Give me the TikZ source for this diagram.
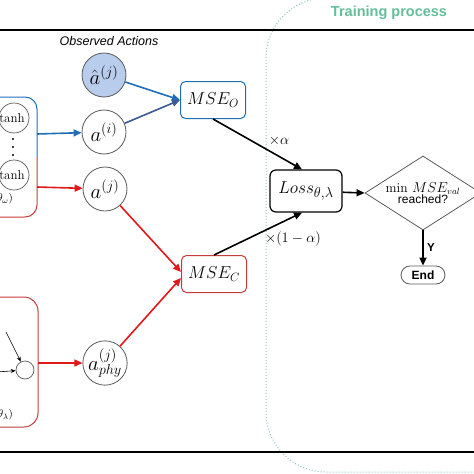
\documentclass[tikz,border=0pt]{standalone}
\usepackage{fontspec}
\setsansfont{Liberation Sans}
\usetikzlibrary{shapes.geometric,arrows.meta}
\definecolor{myblue}{RGB}{31,111,184}
\definecolor{slateblue}{RGB}{60,90,150}
\definecolor{myred}{RGB}{226,24,27}
\definecolor{boxred}{RGB}{196,60,60}
\definecolor{circfill}{RGB}{184,204,236}
\definecolor{trainc}{RGB}{100,190,155}
\definecolor{dotc}{RGB}{140,195,190}
\definecolor{grayb}{RGB}{90,90,90}
\tikzset{
  tipA/.style={-{Triangle[length=8pt,width=7pt]}},
  tipS/.style={-{Stealth[length=5pt,width=4pt]}},
  varc/.style={circle,draw=grayb,line width=0.8pt,minimum size=44pt,inner sep=0pt,font=\fontsize{21}{23}\selectfont},
  msebox/.style={draw,rounded corners=5pt,line width=1pt,minimum width=65pt,minimum height=37pt,font=\fontsize{16.5}{18}\selectfont},
  bluearr/.style={tipA,draw=myblue,fill=myblue,line width=1.6pt},
  slatearr/.style={tipA,draw=slateblue,fill=slateblue,line width=1.6pt},
  redarr/.style={tipA,draw=myred,fill=myred,line width=1.6pt},
  blackarr/.style={tipA,draw=black,line width=1.6pt},
  tanhc/.style={circle,draw=grayb,line width=0.7pt,minimum size=30pt,inner sep=0pt},
}
\begin{document}
\begin{tikzpicture}[x=1pt,y=-1pt]
\useasboundingbox (0,0) rectangle (474,474);
\clip (0,0) rectangle (474,474);
% training region
\draw[dotc,dotted,line width=1pt,rounded corners=60pt] (560,-2) -- (266,-2) -- (266,472) -- (560,472);
\node[font=\sffamily\bfseries\fontsize{14.5}{16}\selectfont,text=trainc] (train) at (389,13) {Training process};
% frame lines
\draw[line width=1.3pt] (0,30) -- (474,30);
\draw[line width=1.3pt] (0,452) -- (474,452);
\node[font=\sffamily\itshape\fontsize{12.5}{14}\selectfont] (obs) at (109,41) {Observed Actions};
% left network box (blue/red)
\draw[myblue,line width=1pt,rounded corners=12pt] (-20,97) -- (37,97) -- (37,157);
\draw[boxred,line width=1pt,rounded corners=12pt] (37,157) -- (37,217) -- (-20,217);
\node[tanhc] (t1) at (14,118) {};
\node[tanhc] (t2) at (14,175) {};
\node[font=\fontsize{13}{15}\selectfont,inner sep=0pt] (t1l) at (12,118) {tanh};
\node[font=\fontsize{13}{15}\selectfont,inner sep=0pt] (t2l) at (12,175) {tanh};
\foreach \yy in {139,147,155} \fill (13,\yy) circle (1.2pt);
\node[anchor=east,font=\fontsize{11}{13}\selectfont,inner sep=0pt] (f1) at (13,199) {$\theta_\omega)$};
% lower physics box
\draw[boxred,line width=1pt,rounded corners=14pt] (-20,297) -- (38,297) -- (38,427) -- (-20,427);
\node[circle,draw=grayb,line width=0.7pt,minimum size=18pt,inner sep=0pt] (sumc) at (25,370) {};
\coordinate (in1) at (-4,372);
\coordinate (in2) at (6,332);
\draw[tipS,line width=0.6pt] (in1) -- (sumc);
\draw[tipS,line width=0.6pt] (in2) -- (sumc);
\node[anchor=east,font=\fontsize{11}{13}\selectfont,inner sep=0pt] (f2) at (13,415) {$\theta_\lambda)$};
\coordinate (nbA) at (37,134);
\coordinate (nbB) at (37,187);
\coordinate (pbA) at (38,363);
% variable circles
\node[varc,fill=circfill] (ahat) at (104,75) {$\hat a^{(j)}$};
\node[varc] (ai) at (104,132) {$a^{(i)}$};
\node[varc] (aj) at (105,189) {$a^{(j)}$};
\node[varc] (aphy) at (105,363) {$a^{(j)}_{phy}$};
% MSE boxes
\node[msebox,draw=myblue] (mseo) at (213,100) {$MSE_O$};
\node[msebox,draw=boxred] (msec) at (214,274) {$MSE_C$};
% loss
\node[draw,rounded corners=6pt,line width=1.2pt,minimum width=72pt,minimum height=42pt,inner sep=1pt,font=\fontsize{19}{21}\selectfont] (loss) at (306,191) {$Loss_{\theta,\lambda}$};
% decision
\node[diamond,draw=grayb,line width=0.8pt,minimum width=116pt,minimum height=74pt,inner sep=0pt] (dec) at (423,193) {};
\node[align=center,inner sep=0pt] (dectext) at (423,193) {{\fontsize{13.5}{15}\selectfont min $MSE_{val}$}\\[-1pt]{\sffamily\fontsize{12}{13}\selectfont reached?}};
\node[draw=grayb,line width=0.8pt,rounded corners=9pt,minimum width=44pt,minimum height=18pt,inner sep=0pt,font=\sffamily\bfseries\fontsize{12}{14}\selectfont] (endn) at (423,275) {End};
% connectors
\draw[bluearr] (nbA) -- (ai);
\draw[redarr] (nbB) -- (aj);
\draw[redarr] (pbA) -- (aphy);
\draw[bluearr] (ahat) -- (mseo.west);
\draw[slatearr] (ai) -- (mseo.west);
\draw[redarr] (aj) -- ([yshift=2pt]msec.west);
\draw[redarr] (aphy) -- ([yshift=-4pt]msec.west);
\draw[blackarr] (mseo.south) -- ([xshift=-4pt]loss.north);
\draw[blackarr] (msec.north) -- ([xshift=-4pt]loss.south);
\draw[blackarr] (loss) -- (dec.west);
\draw[blackarr] (dec.south) -- (endn.north) node[midway,right,font=\sffamily\bfseries\fontsize{11.5}{13}\selectfont] {Y};
\node[font=\fontsize{14}{16}\selectfont] (la) at (279,141) {$\times\alpha$};
\node[font=\fontsize{14}{16}\selectfont] (lb) at (293,239) {$\times(1-\alpha)$};
\end{tikzpicture}
\end{document}
